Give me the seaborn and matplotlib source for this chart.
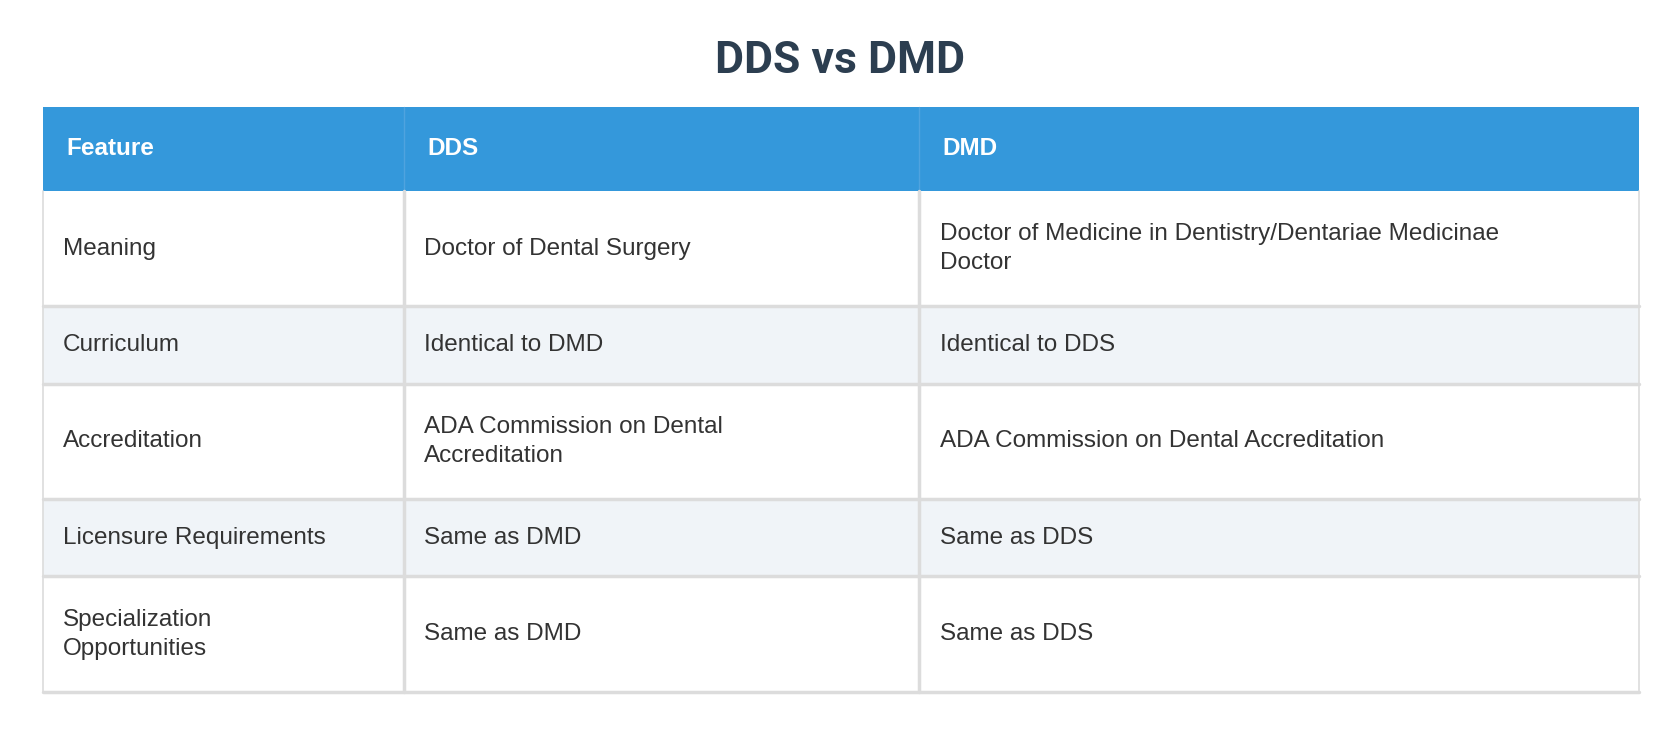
import matplotlib.pyplot as plt
import matplotlib.patches as patches
import seaborn as sns

# Table content
TITLE = "DDS vs DMD"
HEADERS = ["Feature", "DDS", "DMD"]
FEATURES = ["Meaning", "Curriculum", "Accreditation", "Licensure Requirements",
            "Specialization\nOpportunities"]
DDS = ["Doctor of Dental Surgery", "Identical to DMD",
       "ADA Commission on Dental\nAccreditation", "Same as DMD", "Same as DMD"]
DMD = ["Doctor of Medicine in Dentistry/Dentariae Medicinae\nDoctor", "Identical to DDS",
       "ADA Commission on Dental Accreditation", "Same as DDS", "Same as DDS"]

sns.set_theme(style="white")
plt.rcParams['font.family'] = ['Liberation Sans', 'DejaVu Sans']

# layout measured on a 1568-wide view, scaled to 1680
S = 1680 / 1568

fig = plt.figure(figsize=(16.8, 7.36), dpi=100)
ax = fig.add_axes([0, 0, 1, 1])
ax.set_xlim(0, 1568)
ax.set_ylim(736 / S, 0)
ax.axis('off')

col_x = [40, 377, 858, 1530]
row_y = [100, 178, 286, 358, 466, 538, 646]
border = "#dcdcdc"

ax.text(784, 57, TITLE, ha='center', va='center', fontsize=32, fontweight='bold',
        color='#2c3e50', family=['Roboto', 'DejaVu Sans'])

# header
ax.add_patch(patches.Rectangle((col_x[0], row_y[0]), col_x[-1] - col_x[0],
                               row_y[1] - row_y[0], color='#3498db', lw=0))
for i, h in enumerate(HEADERS):
    ax.text(col_x[i] + 22, (row_y[0] + row_y[1]) / 2, h, ha='left', va='center',
            fontsize=17.5, fontweight='bold', color='white')
for x in col_x[1:-1]:
    ax.plot([x, x], [row_y[0], row_y[1]], color='#4fa3df', lw=1)

rows = list(zip(FEATURES, DDS, DMD))
for r, cells in enumerate(rows):
    y0, y1 = row_y[r + 1], row_y[r + 2]
    bg = 'white' if r % 2 == 0 else '#f0f4f8'
    ax.add_patch(patches.Rectangle((col_x[0], y0), col_x[-1] - col_x[0], y1 - y0,
                                   facecolor=bg, lw=0))
    for i, c in enumerate(cells):
        ax.text(col_x[i] + 19, (y0 + y1) / 2, c, ha='left', va='center',
                fontsize=17.5, color='#333333', linespacing=1.4)
    ax.plot([col_x[0], col_x[-1]], [y1, y1], color=border, lw=2.5)

for x in col_x[1:-1]:
    ax.plot([x, x], [row_y[1], row_y[-1]], color=border, lw=2.5)
ax.plot([col_x[0]] * 2, [row_y[1], row_y[-1]], color=border, lw=1.2)
ax.plot([col_x[-1]] * 2, [row_y[1], row_y[-1]], color=border, lw=1.2)

fig.savefig('out.png', dpi=100)
